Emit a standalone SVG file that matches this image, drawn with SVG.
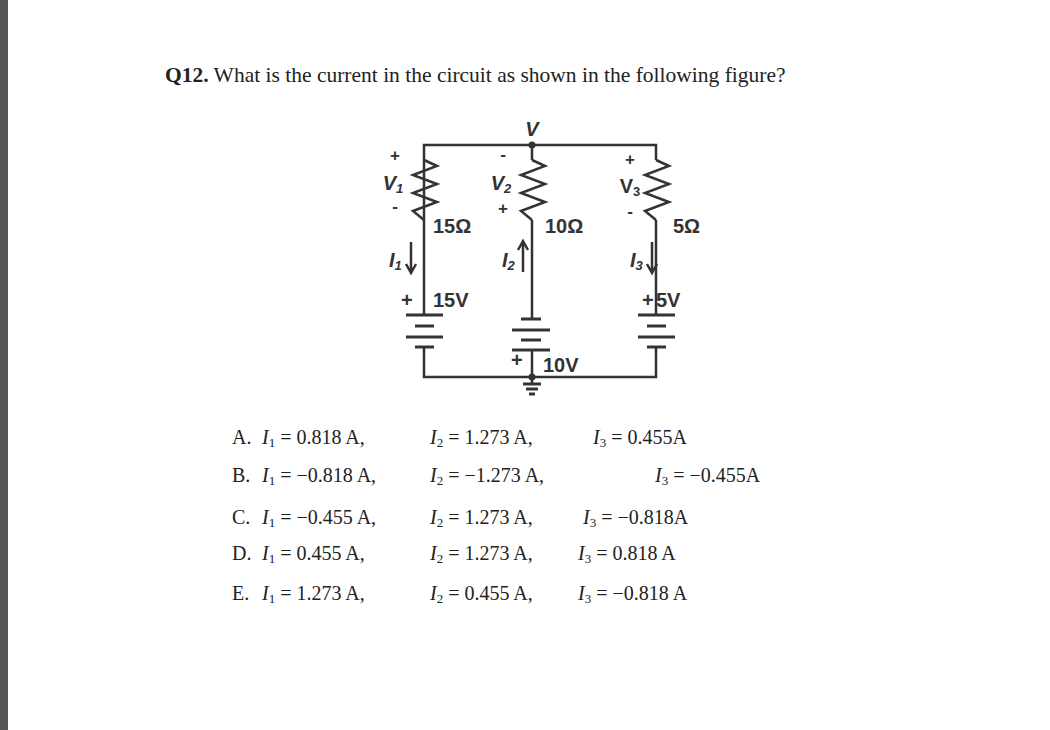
<svg xmlns="http://www.w3.org/2000/svg" width="1050" height="730" viewBox="0 0 1050 730">
<style>
.w{stroke:#333;stroke-width:2.5;fill:none}
.p{stroke:#333;stroke-width:3}
.s{font-family:"Liberation Sans",Arial,sans-serif;font-weight:bold;fill:#333;font-size:20px}
.g{font-size:17px}
.t{font-family:"Liberation Serif","Times New Roman",serif;font-size:20px;fill:#222}
.i{font-style:italic}
.b{font-size:13px}
</style>
<rect width="1050" height="730" fill="#fff"/>
<rect x="0" y="0" width="8" height="730" fill="#555"/>
<text x="165" y="82" class="t" style="font-size:21.5px"><tspan font-weight="bold">Q12.</tspan> What is the current in the circuit as shown in the following figure?</text>
<g id="wires">
<path class="w" d="M424,220 V145 H656 V160 M532,145 V160 M424,315 V220 M532,220 V319 M656,220 V315 M424,347 V377 H656 V347 M532,350 V383"/>
<path class="w" d="M424,160 L437,166 L413,175 L437,184 L413,193 L437,202 L413,211 L424,220"/>
<path class="w" d="M532,160 L545,166 L521,175 L545,184 L521,193 L545,202 L521,211 L532,220"/>
<path class="w" d="M656,160 L669,166 L645,175 L669,184 L645,193 L669,202 L645,211 L656,220"/>
<circle cx="532" cy="145" r="3.5" fill="#333"/><circle cx="532" cy="377" r="3.5" fill="#333"/>
</g>
<g id="batteries">
<line class="p" x1="406" y1="315" x2="443" y2="315"/><line class="p" x1="415" y1="326" x2="434" y2="326"/><line class="p" x1="406" y1="337" x2="443" y2="337"/><line class="p" x1="415" y1="347" x2="434" y2="347"/>
<line class="p" x1="638" y1="315" x2="675" y2="315"/><line class="p" x1="647" y1="326" x2="666" y2="326"/><line class="p" x1="638" y1="337" x2="675" y2="337"/><line class="p" x1="647" y1="347" x2="666" y2="347"/>
<line class="p" x1="521" y1="319" x2="541" y2="319"/><line class="p" x1="512" y1="330" x2="550" y2="330"/><line class="p" x1="521" y1="340" x2="541" y2="340"/><line class="p" x1="512" y1="350" x2="550" y2="350"/>
<line class="p" x1="523" y1="384" x2="541" y2="384"/><line class="p" x1="526" y1="389" x2="538" y2="389"/><line class="p" x1="529" y1="394" x2="535" y2="394"/>
</g>
<g id="arrows" class="w" stroke-width="2">
<path d="M411,242 V272 M406,264 L411,273 L416,264"/>
<path d="M523,272 V242 M518,250 L523,241 L528,250"/>
<path d="M652,242 V272 M647,264 L652,273 L657,264"/>
</g>
<g id="labels" class="s">
<text x="532" y="136" text-anchor="middle" class="i">V</text>
<text x="395" y="161" text-anchor="middle" class="g">+</text><text x="393" y="190" text-anchor="middle" class="i">V<tspan class="b" dy="3">1</tspan></text><text x="395" y="212" text-anchor="middle" class="g">-</text>
<text x="503" y="160" text-anchor="middle" class="g">-</text><text x="501" y="190" text-anchor="middle" class="i">V<tspan class="b" dy="3">2</tspan></text><text x="503" y="214" text-anchor="middle" class="g">+</text>
<text x="630" y="165" text-anchor="middle" class="g">+</text><text x="630" y="193" text-anchor="middle">V<tspan class="b" dy="3">3</tspan></text><text x="630" y="217" text-anchor="middle" class="g">-</text>
<text x="433" y="233">15Ω</text><text x="545" y="233">10Ω</text><text x="673" y="233">5Ω</text>
<text x="389" y="267" class="i">I<tspan class="b" dy="3">1</tspan></text>
<text x="502" y="267" class="i">I<tspan class="b" dy="3">2</tspan></text>
<text x="630" y="267" class="i">I<tspan class="b" dy="3">3</tspan></text>
<text x="401" y="307">+</text><text x="433" y="307">15V</text>
<text x="511" y="367">+</text><text x="543" y="372">10V</text>
<text x="642" y="307">+</text><text x="656" y="307">5V</text>
</g>
<g id="answers" class="t">
<text x="232" y="444">A.</text><text x="262" y="444"><tspan class="i">I</tspan><tspan class="b" dy="3">1</tspan><tspan dy="-3"> = 0.818 A,</tspan></text>
<text x="430" y="444"><tspan class="i">I</tspan><tspan class="b" dy="3">2</tspan><tspan dy="-3"> = 1.273 A,</tspan></text>
<text x="593" y="444"><tspan class="i">I</tspan><tspan class="b" dy="3">3</tspan><tspan dy="-3"> = 0.455A</tspan></text>
<text x="232" y="482">B.</text><text x="262" y="482"><tspan class="i">I</tspan><tspan class="b" dy="3">1</tspan><tspan dy="-3"> = −0.818 A,</tspan></text>
<text x="430" y="482"><tspan class="i">I</tspan><tspan class="b" dy="3">2</tspan><tspan dy="-3"> = −1.273 A,</tspan></text>
<text x="655" y="482"><tspan class="i">I</tspan><tspan class="b" dy="3">3</tspan><tspan dy="-3"> = −0.455A</tspan></text>
<text x="232" y="524">C.</text><text x="262" y="524"><tspan class="i">I</tspan><tspan class="b" dy="3">1</tspan><tspan dy="-3"> = −0.455 A,</tspan></text>
<text x="430" y="524"><tspan class="i">I</tspan><tspan class="b" dy="3">2</tspan><tspan dy="-3"> = 1.273 A,</tspan></text>
<text x="583" y="524"><tspan class="i">I</tspan><tspan class="b" dy="3">3</tspan><tspan dy="-3"> = −0.818A</tspan></text>
<text x="232" y="560">D.</text><text x="262" y="560"><tspan class="i">I</tspan><tspan class="b" dy="3">1</tspan><tspan dy="-3"> = 0.455 A,</tspan></text>
<text x="430" y="560"><tspan class="i">I</tspan><tspan class="b" dy="3">2</tspan><tspan dy="-3"> = 1.273 A,</tspan></text>
<text x="578" y="560"><tspan class="i">I</tspan><tspan class="b" dy="3">3</tspan><tspan dy="-3"> = 0.818 A</tspan></text>
<text x="232" y="600">E.</text><text x="262" y="600"><tspan class="i">I</tspan><tspan class="b" dy="3">1</tspan><tspan dy="-3"> = 1.273 A,</tspan></text>
<text x="430" y="600"><tspan class="i">I</tspan><tspan class="b" dy="3">2</tspan><tspan dy="-3"> = 0.455 A,</tspan></text>
<text x="578" y="600"><tspan class="i">I</tspan><tspan class="b" dy="3">3</tspan><tspan dy="-3"> = −0.818 A</tspan></text>
</g>
</svg>
